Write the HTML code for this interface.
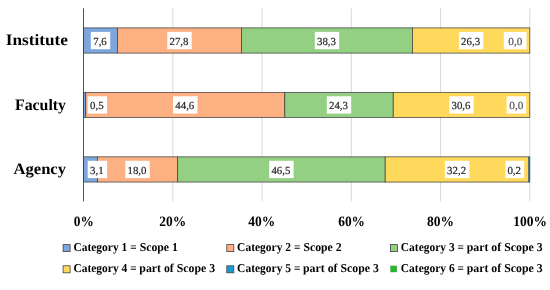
<!DOCTYPE html>
<html><head><meta charset="utf-8"><title>chart</title>
<style>
html,body{margin:0;padding:0;background:#fff;}
body{width:550px;height:290px;overflow:hidden;}
svg{display:block;}
text{font-family:"Liberation Serif",serif;fill:#000;text-rendering:geometricPrecision;}
.cat{font-weight:bold;font-size:16px;}
.ax{font-weight:bold;font-size:14.3px;}
.lg{font-weight:bold;font-size:12px;}
.dl{font-size:10.8px;fill:#262626;stroke:#262626;stroke-width:0.2px;}
</style></head><body>
<svg xmlns="http://www.w3.org/2000/svg" width="550" height="290" viewBox="0 0 550 290">
<rect width="550" height="290" fill="#fff"/>
<line x1="172.8" y1="8.3" x2="172.8" y2="201.5" stroke="#d9d9d9" stroke-width="1"/>
<line x1="262.0" y1="8.3" x2="262.0" y2="201.5" stroke="#d9d9d9" stroke-width="1"/>
<line x1="351.3" y1="8.3" x2="351.3" y2="201.5" stroke="#d9d9d9" stroke-width="1"/>
<line x1="440.5" y1="8.3" x2="440.5" y2="201.5" stroke="#d9d9d9" stroke-width="1"/>
<line x1="529.8" y1="8.3" x2="529.8" y2="201.5" stroke="#d9d9d9" stroke-width="1"/>
<rect x="83.50" y="27.90" width="33.92" height="25.2" fill="#7da7dc" stroke="#404040" stroke-width="0.75"/>
<rect x="117.42" y="27.90" width="124.07" height="25.2" fill="#fdb183" stroke="#404040" stroke-width="0.75"/>
<rect x="241.49" y="27.90" width="170.93" height="25.2" fill="#93d083" stroke="#404040" stroke-width="0.75"/>
<rect x="412.42" y="27.90" width="117.38" height="25.2" fill="#ffd95c" stroke="#404040" stroke-width="0.75"/>
<rect x="83.50" y="92.35" width="2.23" height="25.2" fill="#7da7dc" stroke="#404040" stroke-width="0.75"/>
<rect x="85.73" y="92.35" width="199.05" height="25.2" fill="#fdb183" stroke="#404040" stroke-width="0.75"/>
<rect x="284.78" y="92.35" width="108.45" height="25.2" fill="#93d083" stroke="#404040" stroke-width="0.75"/>
<rect x="393.23" y="92.35" width="136.57" height="25.2" fill="#ffd95c" stroke="#404040" stroke-width="0.75"/>
<rect x="83.50" y="156.85" width="13.84" height="25.2" fill="#7da7dc" stroke="#404040" stroke-width="0.75"/>
<rect x="97.34" y="156.85" width="80.33" height="25.2" fill="#fdb183" stroke="#404040" stroke-width="0.75"/>
<rect x="177.67" y="156.85" width="207.53" height="25.2" fill="#93d083" stroke="#404040" stroke-width="0.75"/>
<rect x="385.20" y="156.85" width="143.71" height="25.2" fill="#ffd95c" stroke="#404040" stroke-width="0.75"/>
<rect x="528.91" y="156.85" width="0.89" height="25.2" fill="#1f9ad6" stroke="#1d5580" stroke-width="0.75"/>
<line x1="83.5" y1="8.3" x2="83.5" y2="201.5" stroke="#404040" stroke-width="0.9"/>
<rect x="90.8" y="31.9" width="19.4" height="17.3" fill="#fff"/>
<text class="dl" x="93.2" y="45" textLength="13.6" lengthAdjust="spacingAndGlyphs">7,6</text>
<rect x="167.3" y="31.9" width="24.4" height="17.3" fill="#fff"/>
<text class="dl" x="169.5" y="45" textLength="19.0" lengthAdjust="spacingAndGlyphs">27,8</text>
<rect x="314.8" y="31.9" width="24.4" height="17.3" fill="#fff"/>
<text class="dl" x="317.0" y="45" textLength="19.0" lengthAdjust="spacingAndGlyphs">38,3</text>
<rect x="458.9" y="31.9" width="24.4" height="17.3" fill="#fff"/>
<text class="dl" x="461.1" y="45" textLength="19.0" lengthAdjust="spacingAndGlyphs">26,3</text>
<rect x="503.8" y="31.9" width="22.8" height="17.3" fill="#fff"/>
<text class="dl" x="508.3" y="45" textLength="14.0" lengthAdjust="spacingAndGlyphs" style="fill:#555;stroke:#555">0,0</text>
<rect x="87.7" y="96.3" width="19.4" height="17.3" fill="#fff"/>
<text class="dl" x="90.1" y="109" textLength="13.6" lengthAdjust="spacingAndGlyphs">0,5</text>
<rect x="173.1" y="96.3" width="24.4" height="17.3" fill="#fff"/>
<text class="dl" x="175.3" y="109" textLength="19.0" lengthAdjust="spacingAndGlyphs">44,6</text>
<rect x="326.8" y="96.3" width="24.4" height="17.3" fill="#fff"/>
<text class="dl" x="329.0" y="109" textLength="19.0" lengthAdjust="spacingAndGlyphs">24,3</text>
<rect x="449.3" y="96.3" width="24.4" height="17.3" fill="#fff"/>
<text class="dl" x="451.5" y="109" textLength="19.0" lengthAdjust="spacingAndGlyphs">30,6</text>
<rect x="506.6" y="96.3" width="19.6" height="17.3" fill="#fff"/>
<text class="dl" x="509.3" y="109" textLength="14.1" lengthAdjust="spacingAndGlyphs" style="fill:#555;stroke:#555">0,0</text>
<rect x="87.7" y="160.8" width="19.4" height="17.3" fill="#fff"/>
<text class="dl" x="90.1" y="174" textLength="13.6" lengthAdjust="spacingAndGlyphs">3,1</text>
<rect x="125.3" y="160.8" width="24.4" height="17.3" fill="#fff"/>
<text class="dl" x="127.5" y="174" textLength="19.0" lengthAdjust="spacingAndGlyphs">18,0</text>
<rect x="269.2" y="160.8" width="24.4" height="17.3" fill="#fff"/>
<text class="dl" x="271.4" y="174" textLength="19.0" lengthAdjust="spacingAndGlyphs">46,5</text>
<rect x="444.9" y="160.8" width="24.4" height="17.3" fill="#fff"/>
<text class="dl" x="447.1" y="174" textLength="19.0" lengthAdjust="spacingAndGlyphs">32,2</text>
<rect x="505.5" y="160.8" width="18.7" height="17.3" fill="#fff"/>
<text class="dl" x="507.4" y="174" textLength="13.7" lengthAdjust="spacingAndGlyphs" style="fill:#262626;stroke:#262626">0,2</text>
<text class="cat" x="5.8" y="45" textLength="62.1" lengthAdjust="spacingAndGlyphs">Institute</text>
<text class="cat" x="15.0" y="110" textLength="51.0" lengthAdjust="spacingAndGlyphs">Faculty</text>
<text class="cat" x="13.5" y="174" textLength="52.5" lengthAdjust="spacingAndGlyphs">Agency</text>
<text class="ax" x="73.7" y="226" textLength="20.1" lengthAdjust="spacingAndGlyphs">0%</text>
<text class="ax" x="159.2" y="226" textLength="26.9" lengthAdjust="spacingAndGlyphs">20%</text>
<text class="ax" x="248.3" y="226" textLength="27.0" lengthAdjust="spacingAndGlyphs">40%</text>
<text class="ax" x="338.2" y="226" textLength="26.8" lengthAdjust="spacingAndGlyphs">60%</text>
<text class="ax" x="427.0" y="226" textLength="27.0" lengthAdjust="spacingAndGlyphs">80%</text>
<text class="ax" x="513.3" y="226" textLength="33.7" lengthAdjust="spacingAndGlyphs">100%</text>
<rect x="63.1" y="244.6" width="7" height="7" fill="#7da7dc" stroke="#404040" stroke-width="0.8"/>
<text class="lg" y="251.2"><tspan x="73.4" textLength="53.9" lengthAdjust="spacingAndGlyphs">Category 1</tspan> <tspan x="130.2" textLength="6.4" lengthAdjust="spacingAndGlyphs">=</tspan> <tspan x="139.7" textLength="38.2" lengthAdjust="spacingAndGlyphs">Scope 1</tspan></text>
<rect x="226.8" y="244.6" width="7" height="7" fill="#fdb183" stroke="#404040" stroke-width="0.8"/>
<text class="lg" y="251.2"><tspan x="237.1" textLength="53.9" lengthAdjust="spacingAndGlyphs">Category 2</tspan> <tspan x="293.9" textLength="6.4" lengthAdjust="spacingAndGlyphs">=</tspan> <tspan x="303.4" textLength="38.2" lengthAdjust="spacingAndGlyphs">Scope 2</tspan></text>
<rect x="390.5" y="244.6" width="7" height="7" fill="#93d083" stroke="#404040" stroke-width="0.8"/>
<text class="lg" y="251.2"><tspan x="400.8" textLength="53.9" lengthAdjust="spacingAndGlyphs">Category 3</tspan> <tspan x="457.6" textLength="6.4" lengthAdjust="spacingAndGlyphs">=</tspan> <tspan x="466.7" textLength="75.9" lengthAdjust="spacingAndGlyphs">part of Scope 3</tspan></text>
<rect x="63.1" y="265.8" width="7" height="7" fill="#ffd95c" stroke="#404040" stroke-width="0.8"/>
<text class="lg" y="272.2"><tspan x="73.4" textLength="53.9" lengthAdjust="spacingAndGlyphs">Category 4</tspan> <tspan x="130.2" textLength="6.4" lengthAdjust="spacingAndGlyphs">=</tspan> <tspan x="139.3" textLength="75.9" lengthAdjust="spacingAndGlyphs">part of Scope 3</tspan></text>
<rect x="226.8" y="265.8" width="7" height="7" fill="#1f9ad6" stroke="#404040" stroke-width="0.8"/>
<text class="lg" y="272.2"><tspan x="237.1" textLength="53.9" lengthAdjust="spacingAndGlyphs">Category 5</tspan> <tspan x="293.9" textLength="6.4" lengthAdjust="spacingAndGlyphs">=</tspan> <tspan x="303.0" textLength="75.9" lengthAdjust="spacingAndGlyphs">part of Scope 3</tspan></text>
<rect x="390.3" y="265.7" width="6.6" height="6.5" fill="#2eb135"/>
<text class="lg" y="272.2"><tspan x="400.8" textLength="53.9" lengthAdjust="spacingAndGlyphs">Category 6</tspan> <tspan x="457.6" textLength="6.4" lengthAdjust="spacingAndGlyphs">=</tspan> <tspan x="466.7" textLength="75.9" lengthAdjust="spacingAndGlyphs">part of Scope 3</tspan></text>
</svg></body></html>
